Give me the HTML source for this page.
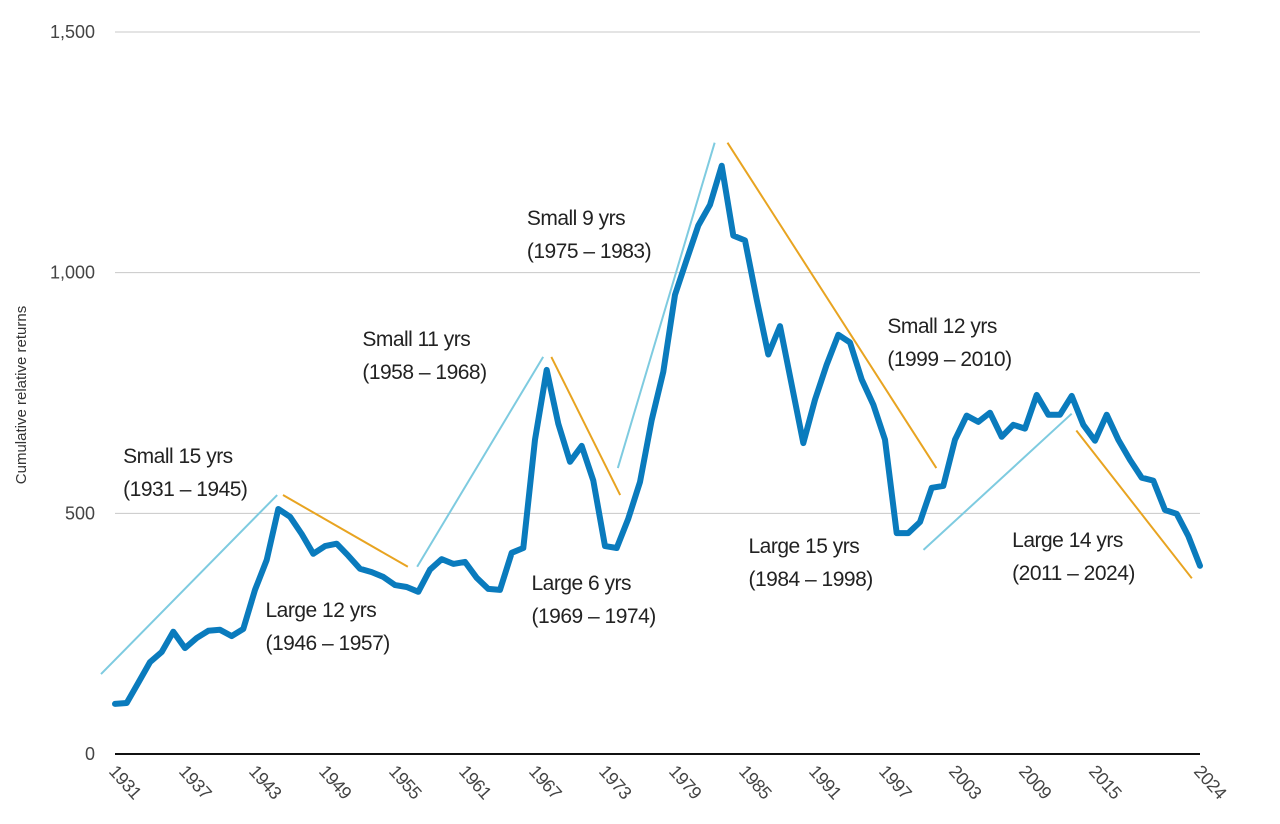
<!DOCTYPE html>
<html><head><meta charset="utf-8"><style>
html,body{margin:0;padding:0;background:#fff;}
svg{display:block;font-family:"Liberation Sans",sans-serif;}
</style></head><body>
<svg id="chart" width="1280" height="824" viewBox="0 0 1280 824" xmlns="http://www.w3.org/2000/svg"></svg>
<script>
const years = [];
for (let y = 1931; y <= 2024; y++) years.push(y);
const values = [104,106,148,191,212,254,220,241,256,258,245,260,341,403,509,
493,457,416,432,437,412,385,378,368,351,347,337,
383,405,395,399,366,343,341,418,428,653,798,
686,607,640,568,432,428,
489,565,694,794,954,1027,1098,1141,1222,
1077,1067,944,830,889,767,646,736,809,871,855,778,726,653,459,
459,482,553,557,653,703,690,709,659,684,676,746,
705,705,744,684,651,705,653,611,574,568,507,499,453,391];
const yTicks = [0,500,1000,1500];
const yTickLabels = ["0","500","1,000","1,500"];
const xTicks = [1931,1937,1943,1949,1955,1961,1967,1973,1979,1985,1991,1997,2003,2009,2015,2024];
const trendStartYears = [1929.8,1945.4,1956.9,1968.4,1974.1,1983.5,2000.3,2013.4];
const trendStartVals = [166,538,389,825,594,1270,424,672];
const trendEndYears = [1944.9,1956.1,1967.7,1974.3,1982.4,2001.4,2013.0,2023.3];
const trendEndVals = [538,389,825,538,1270,594,707,365];
const trendTypes = ["small","large","small","large","small","large","small","large"];
const annoTitles = ["Small 15 yrs","Large 12 yrs","Small 11 yrs","Large 6 yrs","Small 9 yrs","Large 15 yrs","Small 12 yrs","Large 14 yrs"];
const annoRanges = ["(1931 – 1945)","(1946 – 1957)","(1958 – 1968)","(1969 – 1974)","(1975 – 1983)","(1984 – 1998)","(1999 – 2010)","(2011 – 2024)"];
const annoYears = [1931.7,1943.9,1952.2,1966.7,1966.3,1985.3,1997.2,2007.9];
const annoVals = [605,285,848,341,1099,418,875,430];

const NS="http://www.w3.org/2000/svg";
const svg=document.getElementById('chart');
const X0=115,X1=1200,Y0=754,Y1=32;
const x=yr=>X0+(yr-1931)*(X1-X0)/(2024-1931);
const y=v=>Y0-v*(Y0-Y1)/1500;
function mk(tag,attrs,parent){const e=document.createElementNS(NS,tag);for(const k in attrs)e.setAttribute(k,attrs[k]);(parent||svg).appendChild(e);return e;}

yTicks.forEach((t,i)=>{
  if(t>0){const g=mk('line',{x1:X0,x2:X1,y1:y(t),y2:y(t),stroke:'#c8c8c8','stroke-width':1});
  
  }
  const tx=mk('text',{x:95,y:y(t)+6,'text-anchor':'end','font-size':18,fill:'#444'});
  tx.textContent=yTickLabels[i];
  
  
});
const axis=mk('line',{x1:X0,x2:X1,y1:Y0,y2:Y0,stroke:'#111','stroke-width':2});



const yt=mk('text',{x:0,y:0,'font-size':15,fill:'#333','text-anchor':'middle',transform:'translate(26,395) rotate(-90)'});
yt.textContent='Cumulative relative returns';



xTicks.forEach(t=>{
  const tx=mk('text',{x:0,y:0,'font-size':18,fill:'#444','letter-spacing':'-0.5',transform:`translate(${x(t)-7},${772}) rotate(48)`});
  tx.textContent=t;
  
  
});

trendTypes.forEach((tp,i)=>{
  const l=mk('line',{x1:x(trendStartYears[i]),y1:y(trendStartVals[i]),x2:x(trendEndYears[i]),y2:y(trendEndVals[i]),stroke:tp==='small'?'#7ecbe0':'#e8a421','stroke-width':2});
  
  
});

const pts=years.map((yr,i)=>x(yr).toFixed(1)+','+y(values[i]).toFixed(1)).join(' ');
const pl=mk('polyline',{points:pts,fill:'none',stroke:'#0a7bbd','stroke-width':6,'stroke-linejoin':'round','stroke-linecap':'round'});



annoTitles.forEach((t,i)=>{
  const g=mk('g',{});
  
  
  const a=mk('text',{x:x(annoYears[i]),y:y(annoVals[i]),'font-size':21,fill:'#222','letter-spacing':'-0.5'},g);
  a.textContent=t;
  const b=mk('text',{x:x(annoYears[i]),y:y(annoVals[i])+33,'font-size':21,fill:'#222','letter-spacing':'-0.5'},g);
  b.textContent=annoRanges[i];
});
</script>
</body></html>
